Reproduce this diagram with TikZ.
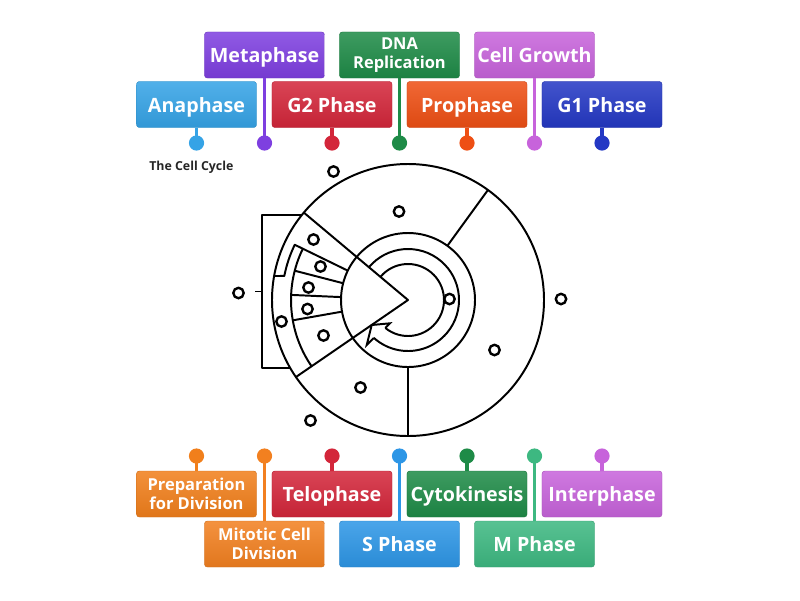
\documentclass[tikz,border=0pt]{standalone}
\usepackage{fontspec}
\setmainfont{Open Sans}
\usetikzlibrary{calc}
\definecolor{cAna}{HTML}{35A3E6}
\definecolor{cMeta}{HTML}{7E3FE0}
\definecolor{cGtwo}{HTML}{D3263A}
\definecolor{cDna}{HTML}{1E8B47}
\definecolor{cPro}{HTML}{EE4F14}
\definecolor{cGrow}{HTML}{C763DB}
\definecolor{cGone}{HTML}{2438C4}
\definecolor{cPrep}{HTML}{F17F1B}
\definecolor{cMito}{HTML}{F28020}
\definecolor{cTelo}{HTML}{D3263A}
\definecolor{cSph}{HTML}{2D96E6}
\definecolor{cCyto}{HTML}{1E8B47}
\definecolor{cMph}{HTML}{3DB881}
\definecolor{cInter}{HTML}{C763DB}
\begin{document}
\begin{tikzpicture}[x=0.025cm,y=-0.025cm,
  lab/.style={rounded corners=2pt, minimum width=3cm, minimum height=1.15cm,
    inner sep=0pt, text=white, align=center,
    font=\bfseries\fontsize{14}{16}\selectfont,
    top color=#1!86!white, bottom color=#1!93!black, draw=#1!85!black, line width=0.3pt},
  oneline/.style={text height=12pt, text depth=1pt},
  twoline/.style={font=\bfseries\fontsize{11.7}{13.8}\selectfont},
  pin/.style={circle, fill=#1, minimum size=0.38cm, inner sep=0pt},
  stem/.style={draw=#1, line width=2.6pt},
  dl/.style={line width=1.4pt, black, line join=round},
  odot/.style={circle, draw=black, line width=1.7pt, minimum size=0.26cm, inner sep=0pt, fill=white}
]
\useasboundingbox (0,0) rectangle (800,600);

% ---------- top labels ----------
\node[pin=cAna]  (anad)  at (196.5,143) {};
\node[pin=cMeta] (metad) at (264.5,143) {};
\node[pin=cGtwo] (gtwod) at (332,143) {};
\node[pin=cDna]  (dnad)  at (399.5,143) {};
\node[pin=cPro]  (prod)  at (467,143) {};
\node[pin=cGrow] (growd) at (534.5,143) {};
\node[pin=cGone] (goned) at (602,143) {};

\node[lab=cMeta, oneline] (meta) at (264.5,55) {Metaphase};
\node[lab=cDna, twoline] (dna) at (399.5,55) {DNA\\Replication};
\node[lab=cGrow, oneline] (grow) at (534.5,55) {Cell Growth};
\node[lab=cAna, oneline] (ana) at (196.5,104.5) {Anaphase};
\node[lab=cGtwo, oneline] (gtwo) at (332,104.5) {G2 Phase};
\node[lab=cPro, oneline] (pro) at (467,104.5) {Prophase};
\node[lab=cGone, oneline] (gone) at (602,104.5) {G1 Phase};

\draw[stem=cAna]  (ana.south)  -- (anad.center);
\draw[stem=cMeta] (meta.south) -- (metad.center);
\draw[stem=cGtwo] (gtwo.south) -- (gtwod.center);
\draw[stem=cDna]  (dna.south)  -- (dnad.center);
\draw[stem=cPro]  (pro.south)  -- (prod.center);
\draw[stem=cGrow] (grow.south) -- (growd.center);
\draw[stem=cGone] (gone.south) -- (goned.center);

% ---------- bottom labels ----------
\node[pin=cPrep]  (prepd)  at (196.5,456) {};
\node[pin=cMito]  (mitod)  at (264.5,456) {};
\node[pin=cTelo]  (telod)  at (332,456) {};
\node[pin=cSph]   (sphd)   at (399.5,456) {};
\node[pin=cCyto]  (cytod)  at (467,456) {};
\node[pin=cMph]   (mphd)   at (534.5,456) {};
\node[pin=cInter] (interd) at (602,456) {};

\node[lab=cPrep, twoline] (prep) at (196.5,494) {Preparation\\for Division};
\node[lab=cTelo, oneline] (telo) at (332,494) {Telophase};
\node[lab=cCyto, oneline] (cyto) at (467,494) {Cytokinesis};
\node[lab=cInter, oneline] (inter) at (602,494) {Interphase};
\node[lab=cMito, twoline] (mito) at (264.5,544) {Mitotic Cell\\Division};
\node[lab=cSph, oneline] (sph) at (399.5,544) {S Phase};
\node[lab=cMph, oneline] (mph) at (534.5,544) {M Phase};

\draw[stem=cPrep]  (prep.north)  -- (prepd.center);
\draw[stem=cMito]  (mito.north)  -- (mitod.center);
\draw[stem=cTelo]  (telo.north)  -- (telod.center);
\draw[stem=cSph]   (sph.north)   -- (sphd.center);
\draw[stem=cCyto]  (cyto.north)  -- (cytod.center);
\draw[stem=cMph]   (mph.north)   -- (mphd.center);
\draw[stem=cInter] (inter.north) -- (interd.center);

% ---------- title ----------
\node[anchor=west, inner sep=0pt, text=black!85, font=\bfseries\fontsize{8.8}{10}\selectfont] (title) at (149,167) {The Cell Cycle};

% ---------- cell cycle diagram ----------
\coordinate (C) at (408,300);
\draw[dl] (C) circle[radius=136];
\draw[dl] (C) circle[radius=67];
% M-phase sector
\draw[dl] ($(C)+(220:136)$) -- (C) -- ($(C)+(145.5:136)$);
% interphase dividers
\draw[dl] ($(C)+(306:67)$) -- ($(C)+(306:136)$);
\draw[dl] ($(C)+(90:67)$) -- ($(C)+(90:136)$);
% inner arc of the M sector
\draw[dl] ($(C)+(145.5:117)$) arc[start angle=145.5, end angle=206, radius=117];
% L-shaped band
\draw[dl] (274.1,276) -- ($(C)+(191:126)$) arc[start angle=191, end angle=206, radius=126]
  -- ($(C)+(206:67)$);
% sub-sector lines
\draw[dl] ($(C)+(194.5:117)$) -- ($(C)+(194.5:67)$);
\draw[dl] ($(C)+(182.5:117)$) -- ($(C)+(182.5:67)$);
\draw[dl] ($(C)+(170:117)$) -- ($(C)+(170:67)$);
% circular arrow
\draw[dl] ($(C)+(220:51)$) arc[start angle=220, end angle=492, radius=51];
\draw[dl] ($(C)+(220:36)$) arc[start angle=220, end angle=489, radius=36];
\draw[dl, line join=miter] ($(C)+(489:36)$) -- (390,323.3) -- (371.7,325) -- (366.7,345) -- ($(C)+(492:51)$);
% bracket
\draw[dl] (301.8,215) -- (262,215) -- (262,368) -- (290.2,368);
\draw[dl] (255,291.5) -- (262,291.5);

% ---------- answer spots ----------
\node[odot] (s1)  at (333.5,171.5) {};
\node[odot] (s2)  at (399,211.5) {};
\node[odot] (s3)  at (313.5,239.5) {};
\node[odot] (s4)  at (320.5,266.5) {};
\node[odot] (s5)  at (308.5,287.5) {};
\node[odot] (s6)  at (307.5,309) {};
\node[odot] (s7)  at (281.5,321.5) {};
\node[odot] (s8)  at (323.5,335.5) {};
\node[odot] (s9)  at (238.5,293) {};
\node[odot] (s10) at (449.5,299) {};
\node[odot] (s11) at (561,299) {};
\node[odot] (s12) at (494.5,350) {};
\node[odot] (s13) at (360.5,387.5) {};
\node[odot] (s14) at (310.5,420.5) {};
\end{tikzpicture}
\end{document}
